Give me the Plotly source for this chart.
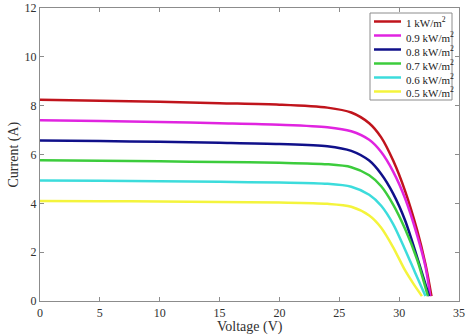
import plotly.graph_objects as go

# I-V curves of a PV module at several irradiance levels
labels = ["1 kW/m<sup>2</sup>", "0.9 kW/m<sup>2</sup>", "0.8 kW/m<sup>2</sup>",
          "0.7 kW/m<sup>2</sup>", "0.6 kW/m<sup>2</sup>", "0.5 kW/m<sup>2</sup>"]
colors = ["#c0141c", "#e024e0", "#10108a", "#3ccc3c", "#3cdcdc", "#f4f43c"]

v_1000 = [0, 5, 10, 15, 20, 24, 26, 27.5, 28.5, 29.5, 30.5, 31.5, 32.2, 32.7]
i_1000 = [8.24, 8.2, 8.16, 8.1, 8.04, 7.92, 7.72, 7.28, 6.7, 5.75, 4.5, 2.9, 1.5, 0.2]

v_900 = [0, 5, 10, 15, 20, 24, 26, 27.5, 28.5, 29.5, 30.5, 31.5, 32.2, 32.6]
i_900 = [7.40, 7.37, 7.33, 7.28, 7.22, 7.12, 6.95, 6.6, 6.1, 5.3, 4.2, 2.7, 1.4, 0.2]

v_800 = [0, 5, 10, 15, 20, 24, 26, 27.5, 28.5, 29.5, 30.5, 31.5, 32.5]
i_800 = [6.57, 6.55, 6.52, 6.48, 6.43, 6.34, 6.15, 5.75, 5.2, 4.4, 3.3, 1.8, 0.2]

v_700 = [0, 5, 10, 15, 20, 24, 26, 27.5, 28.5, 29.5, 30.5, 31.5, 32.4]
i_700 = [5.76, 5.74, 5.72, 5.69, 5.66, 5.6, 5.48, 5.15, 4.7, 3.95, 2.95, 1.7, 0.2]

v_600 = [0, 5, 10, 15, 20, 24, 26, 27.5, 28.5, 29.5, 30.5, 31.3, 32.2]
i_600 = [4.94, 4.92, 4.9, 4.88, 4.85, 4.8, 4.68, 4.35, 3.9, 3.15, 2.1, 1.2, 0.2]

v_500 = [0, 5, 10, 15, 20, 24, 26, 27.5, 28.5, 29.5, 30.5, 31.2, 31.9]
i_500 = [4.1, 4.09, 4.07, 4.05, 4.03, 3.98, 3.86, 3.5, 3.0, 2.2, 1.25, 0.7, 0.2]

voltages = [v_1000, v_900, v_800, v_700, v_600, v_500]
currents = [i_1000, i_900, i_800, i_700, i_600, i_500]

x_ticks = [0, 5, 10, 15, 20, 25, 30, 35]
y_ticks = [0, 2, 4, 6, 8, 10, 12]

serif = "Liberation Serif, Times New Roman, serif"
text_color = "#303030"
frame_color = "#8c8c8c"

W, H = 474, 336
M = dict(l=40, r=15, t=8, b=35)
plot_w = W - M["l"] - M["r"]
plot_h = H - M["t"] - M["b"]


def px_x(p):
    """Pixel column -> paper x."""
    return (p - M["l"]) / plot_w


def px_y(p):
    """Pixel row -> paper y."""
    return (H - M["b"] - p) / plot_h


fig = go.Figure()
for v, i, name, c in zip(voltages, currents, labels, colors):
    fig.add_trace(go.Scatter(
        x=v, y=i, mode="lines", name=name,
        line=dict(color=c, width=2.5, shape="spline", smoothing=0.8),
    ))

axis_common = dict(
    showgrid=False, zeroline=False, showline=True, mirror="ticks",
    linecolor=frame_color, linewidth=1, ticks="inside", ticklen=4,
    tickcolor=frame_color, automargin=False,
    tickfont=dict(family=serif, size=12, color=text_color),
)

# compact boxed legend in the upper-right corner
box_left, box_right, box_top, box_bottom = 370, 452, 13, 100
shapes = [dict(type="rect", xref="paper", yref="paper",
               x0=px_x(box_left), x1=px_x(box_right),
               y0=px_y(box_bottom), y1=px_y(box_top),
               line=dict(color=frame_color, width=1), fillcolor="white", layer="above")]
annotations = []
row0, row_gap = 21.5, 14.0
for k, (name, c) in enumerate(zip(labels, colors)):
    ry = row0 + k * row_gap
    shapes.append(dict(type="line", xref="paper", yref="paper",
                       x0=px_x(374), x1=px_x(401), y0=px_y(ry), y1=px_y(ry),
                       line=dict(color=c, width=2.5), layer="above"))
    annotations.append(dict(xref="paper", yref="paper", x=px_x(404), y=px_y(ry + 1),
                            xanchor="left", yanchor="middle", showarrow=False,
                            text=name, font=dict(family=serif, size=11, color="#222")))

# axis titles
annotations.append(dict(xref="paper", yref="paper", x=0.5, y=0, yshift=-26,
                        xanchor="center", yanchor="middle", showarrow=False,
                        text="Voltage (V)", font=dict(family=serif, size=14, color=text_color)))
annotations.append(dict(xref="paper", yref="paper", x=0, y=0.5, xshift=-27,
                        xanchor="center", yanchor="middle", showarrow=False, textangle=-90,
                        text="Current (A)", font=dict(family=serif, size=14, color=text_color)))

fig.update_layout(
    width=W, height=H,
    margin=M,
    paper_bgcolor="white", plot_bgcolor="white",
    font=dict(family=serif, color=text_color),
    xaxis=dict(range=[0, 35], tickvals=x_ticks, ticklabelstandoff=1, **axis_common),
    yaxis=dict(range=[0, 12], tickvals=y_ticks, **axis_common),
    shapes=shapes,
    annotations=annotations,
    showlegend=False,
)

fig.write_html("out.html")
